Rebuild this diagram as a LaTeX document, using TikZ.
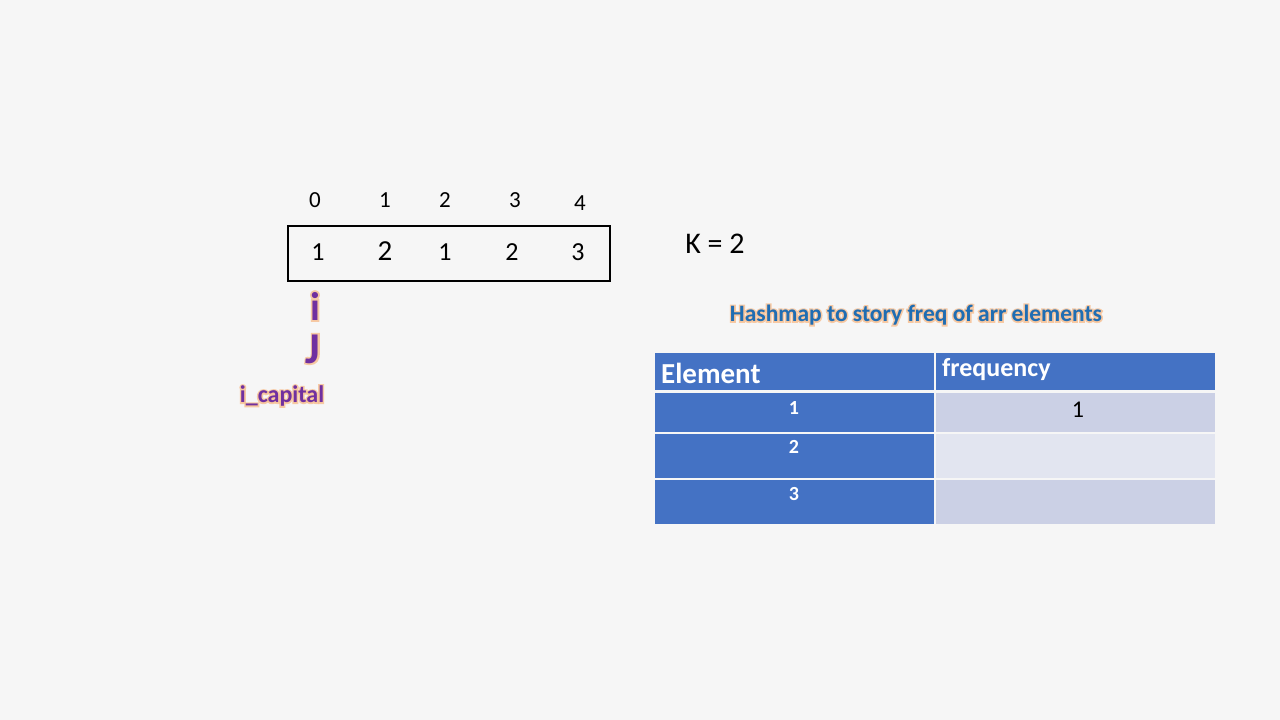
\documentclass[tikz,border=0pt]{standalone}
\usepackage{fontspec}
\setmainfont{Carlito}
\definecolor{bgc}{HTML}{F6F6F6}
\definecolor{purp}{HTML}{7030A0}
\definecolor{glow}{HTML}{F6BE90}
\definecolor{ttl}{HTML}{1F6DB3}
\definecolor{hdr}{HTML}{4472C4}
\definecolor{lite}{HTML}{CBD0E5}
\definecolor{lighter}{HTML}{E2E5F0}
% glow layer: text filled and stroked thickly in light orange
\newcommand{\glowback}[2]{\special{pdf:literal direct q 2 Tr #1 w 0.965 0.745 0.565 RG}#2\special{pdf:literal direct Q}}
\tikzset{
  idx/.style={font=\fontsize{23}{26}\selectfont, anchor=center},
  val/.style={font=\fontsize{26}{28}\selectfont, anchor=center},
  ptr/.style={font=\bfseries\fontsize{40}{44}\selectfont, text=purp, anchor=center},
  halo/.style={text=glow, text opacity=0.8},
  cell/.style={draw=none, inner sep=0pt, anchor=north west},
  wlab/.style={text=white, font=\bfseries\fontsize{20}{22}\selectfont, anchor=center},
}
\begin{document}
\begin{tikzpicture}[x=1pt,y=-1pt]
\fill[bgc] (0,0) rectangle (1280,720);
\useasboundingbox (0,0) rectangle (1280,720);
% index labels
\node[idx] (i0) at (315,200) {0};
\node[idx] (i1) at (385,200) {1};
\node[idx] (i2) at (445,200) {2};
\node[idx] (i3) at (515,200) {3};
\node[idx] (i4) at (580,203) {4};
% array box
\node[draw=black, line width=1.5pt, minimum width=322pt, minimum height=55pt, inner sep=0pt] (arr) at (449,253.5) {};
\node[val] (v0) at (318,252) {1};
\node[val, font=\fontsize{29}{30}\selectfont] (v1) at (385,251) {2};
\node[val] (v2) at (445,252) {1};
\node[val] (v3) at (512,252) {2};
\node[val] (v4) at (578,252) {3};
% pointers (glow layer, then text)
\node[ptr, halo] (pig) at (315,306) {\glowback{3.5}{i}};
\node[ptr] (pi) at (315,306) {i};
\node[ptr, halo, font=\bfseries\fontsize{44}{46}\selectfont] (pjg) at (313,349) {\glowback{3.5}{J}};
\node[ptr, font=\bfseries\fontsize{44}{46}\selectfont] (pj) at (313,349) {J};
\node[ptr, halo, font=\bfseries\fontsize{24}{26}\selectfont] (picg) at (282,396) {\glowback{3}{i\_capital}};
\node[ptr, font=\bfseries\fontsize{24}{26}\selectfont] (pic) at (282,396) {i\_capital};
% K
\node[font=\fontsize{30}{32}\selectfont] (k) at (715,244) {K = 2};
% title
\node[halo, font=\bfseries\fontsize{23.5}{26}\selectfont] (titleg) at (916,315) {\glowback{3}{Hashmap to story freq of arr elements}};
\node[text=ttl, font=\bfseries\fontsize{23.5}{26}\selectfont] (title) at (916,315) {Hashmap to story freq of arr elements};
% table
\node[cell, fill=hdr, minimum width=279pt, minimum height=37pt] (h1) at (655,353) {};
\node[cell, fill=hdr, minimum width=279pt, minimum height=37pt] (h2) at (936,353) {};
\node[cell, fill=hdr, minimum width=279pt, minimum height=39pt] (a1) at (655,393) {};
\node[cell, fill=lite, minimum width=279pt, minimum height=39pt] (b1) at (936,393) {};
\node[cell, fill=hdr, minimum width=279pt, minimum height=44pt] (a2) at (655,434) {};
\node[cell, fill=lighter, minimum width=279pt, minimum height=44pt] (b2) at (936,434) {};
\node[cell, fill=hdr, minimum width=279pt, minimum height=44pt] (a3) at (655,480) {};
\node[cell, fill=lite, minimum width=279pt, minimum height=44pt] (b3) at (936,480) {};
\node[text=white, font=\bfseries\fontsize{29}{31}\selectfont, anchor=west, inner sep=0pt] (el) at (661,373) {Element};
\node[text=white, font=\bfseries\fontsize{26}{28}\selectfont, anchor=west, inner sep=0pt] (fr) at (942,370) {frequency};
\node[wlab] (r1) at (794,408) {1};
\node[wlab] (r2) at (794,447) {2};
\node[wlab] (r3) at (794,494) {3};
\node[font=\fontsize{24}{26}\selectfont] (f1) at (1078,410) {1};
\end{tikzpicture}
\end{document}
